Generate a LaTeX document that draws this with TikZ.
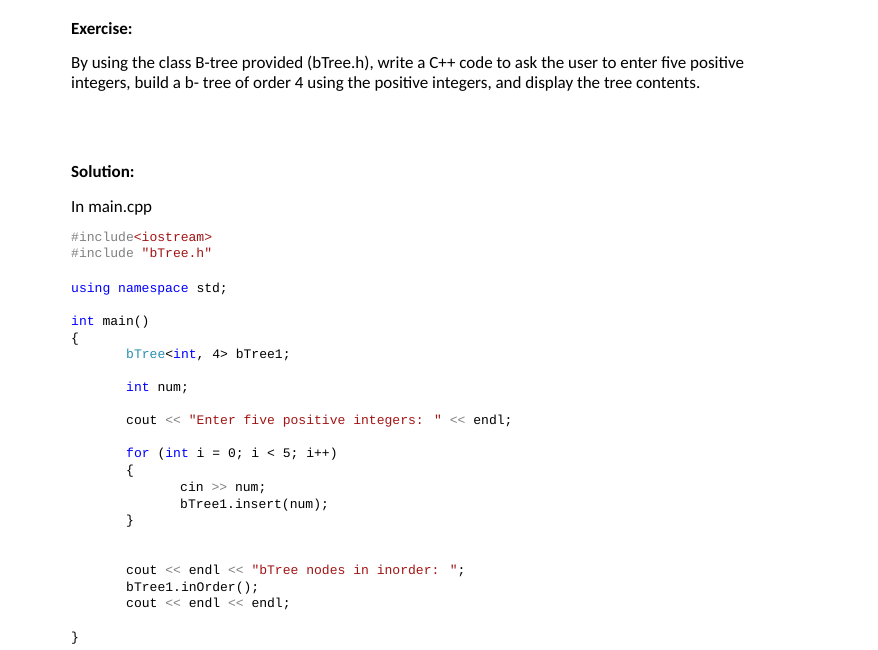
\documentclass[tikz,border=0pt]{standalone}
\usepackage{fontspec}
\setmainfont{Carlito}
\newfontfamily\codefont{Liberation Mono}
\definecolor{kw}{HTML}{0000FF}
\definecolor{str}{HTML}{A31515}
\definecolor{typ}{HTML}{2B91AF}
\definecolor{gr}{HTML}{808080}
\begin{document}
\begin{tikzpicture}[x=1pt,y=-1pt,
  prose/.style={anchor=west,inner sep=0pt,font=\fontsize{17}{20}\selectfont},
  code/.style={anchor=west,inner sep=0pt,font=\codefont\fontsize{13.05}{16}\selectfont}]
\useasboundingbox[fill=white] (0,0) rectangle (878,650);
\node[prose] (ex) at (71,29) {\textbf{Exercise:}};
\node[prose] (l1) at (71,64) {By using the class B-tree provided (bTree.h), write a C++ code to ask the user to enter five positive};
\node[prose] (l2) at (71,84) {integers, build a b- tree of order 4 using the positive integers, and display the tree contents.};
\node[prose] (sol) at (71,172) {\textbf{Solution:}};
\node[prose] (inm) at (71,208) {In main.cpp};
\node[code] (c1) at (71,237) {\textcolor{gr}{\#include}\textcolor{str}{<iostream>}};
\node[code] (c2) at (71,253) {\textcolor{gr}{\#include} \textcolor{str}{"bTree.h"}};
\node[code] (c3) at (71,289) {\textcolor{kw}{using namespace} std;};
\node[code] (c4) at (71,322) {\textcolor{kw}{int} main()};
\node[code] (c5) at (71,339) {\{};
\node[code] (c6) at (126,355) {\textcolor{typ}{bTree}<\textcolor{kw}{int}, 4> bTree1;};
\node[code] (c7) at (126,388) {\textcolor{kw}{int} num;};
\node[code] (c8) at (126,421) {cout \textcolor{gr}{<<} \textcolor{str}{"Enter five positive integers: "} \textcolor{gr}{<<} endl;};
\node[code] (c9) at (126,454) {\textcolor{kw}{for} (\textcolor{kw}{int} i = 0; i < 5; i++)};
\node[code] (c10) at (126,471) {\{};
\node[code] (c11) at (180,488) {cin \textcolor{gr}{>>} num;};
\node[code] (c12) at (180,505) {bTree1.insert(num);};
\node[code] (c13) at (126,521) {\}};
\node[code] (c14) at (126,571) {cout \textcolor{gr}{<<} endl \textcolor{gr}{<<} \textcolor{str}{"bTree nodes in inorder: "};};
\node[code] (c15) at (126,588) {bTree1.inOrder();};
\node[code] (c16) at (126,604) {cout \textcolor{gr}{<<} endl \textcolor{gr}{<<} endl;};
\node[code] (c17) at (71,638) {\}};
\end{tikzpicture}
\end{document}
